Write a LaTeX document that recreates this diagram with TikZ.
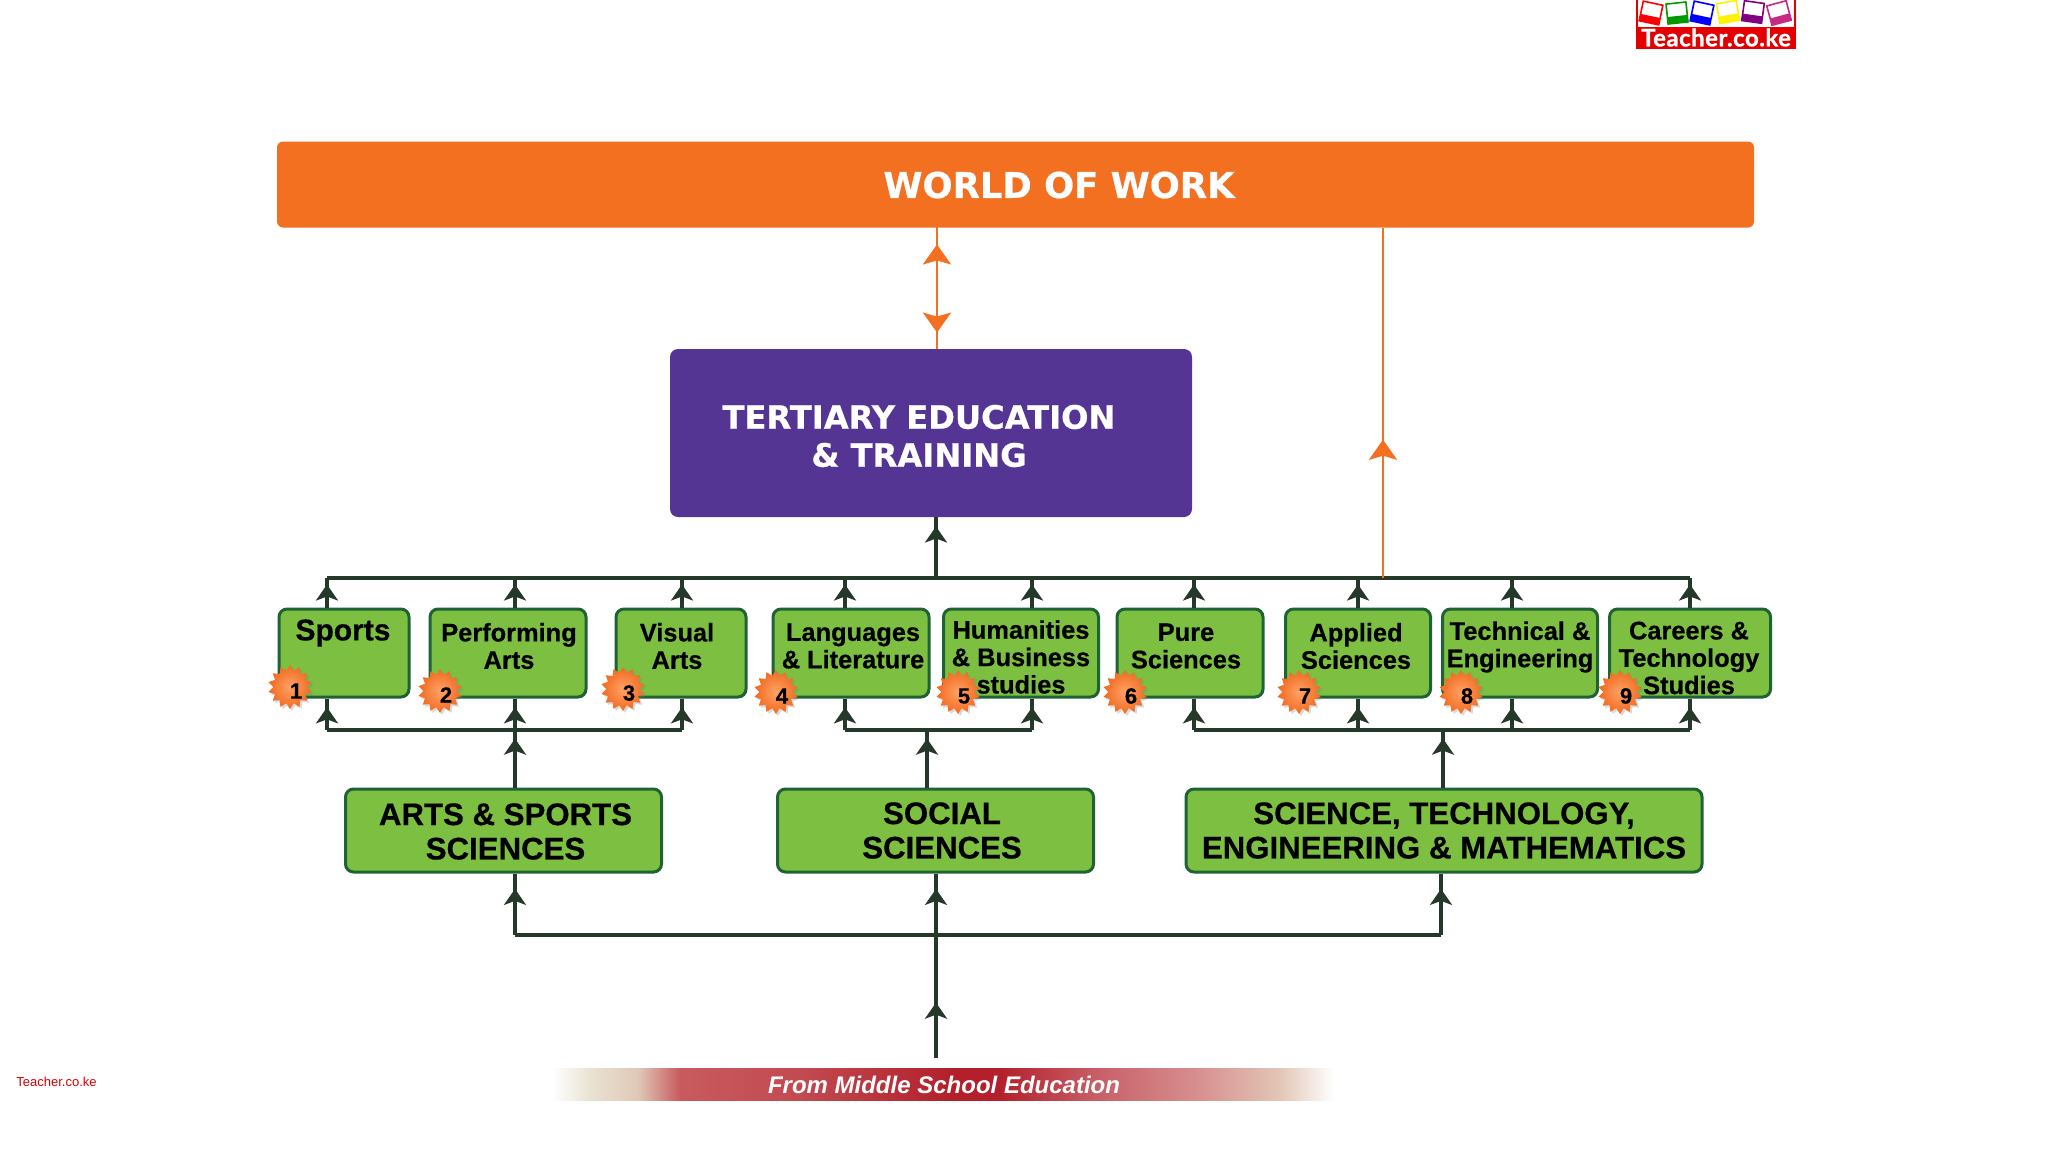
\documentclass[tikz,border=0pt]{standalone}
\usepackage{fontspec}
\setmainfont{Liberation Sans}[BoldFeatures={FakeBold=0.5}]
\newfontfamily\heavyfont{DejaVu Sans}[BoldFeatures={FakeBold=0.6}]
\newfontfamily\logofont{Lato}[BoldFeatures={FakeBold=1}, LetterSpace=2]
\usepackage{tikz}
\usetikzlibrary{arrows.meta, decorations.markings, shapes.geometric, shadows}
\definecolor{workorange}{HTML}{F37021}
\definecolor{tertiarypurple}{HTML}{553593}
\definecolor{boxgreen}{HTML}{7DBF41}
\definecolor{boxedge}{HTML}{1F6236}
\definecolor{flowdark}{HTML}{25392B}
\definecolor{badgelight}{HTML}{FFA266}
\definecolor{badgedark}{HTML}{F26A1F}
\definecolor{ribbonA}{HTML}{E9E3D3}
\definecolor{ribbonB}{HTML}{E0C8B8}
\definecolor{ribbonC}{HTML}{C85A5E}
\definecolor{ribbonD}{HTML}{C24A50}
\definecolor{ribbonE}{HTML}{B3202C}
\definecolor{ribbonF}{HTML}{C86068}
\definecolor{ribbonG}{HTML}{D89090}
\definecolor{ribbonH}{HTML}{E2C6B6}
\pgfdeclarehorizontalshading{ribbonfade}{100bp}{
    color(0bp)=(white); color(25bp)=(white); color(27.4bp)=(ribbonA);
    color(30.5bp)=(ribbonB); color(33.2bp)=(ribbonC); color(40.9bp)=(ribbonD);
    color(50.5bp)=(ribbonE); color(53.6bp)=(ribbonE); color(60bp)=(ribbonF);
    color(66.4bp)=(ribbonG); color(71.5bp)=(ribbonH); color(75bp)=(white); color(100bp)=(white)}
\tikzset{
    smallbox/.style={draw=boxedge, fill=boxgreen, line width=1.5pt, rounded corners=4pt,
        inner sep=0pt, minimum height=44pt},
    smalltext/.style={align=center, inner sep=0pt, font=\bfseries\fontsize{12.7}{13.7}\selectfont},
    groupbox/.style={draw=boxedge, fill=boxgreen, line width=1.5pt, rounded corners=4pt,
        inner sep=0pt, minimum height=41.5pt},
    grouptext/.style={align=center, inner sep=0pt, font=\bfseries\fontsize{15.6}{17.2}\selectfont},
    badge/.style={star, star points=14, star point ratio=1.32, minimum size=22pt, inner sep=0pt,
        inner color=badgelight, outer color=badgedark, drop shadow={shadow xshift=1pt, shadow yshift=-1pt, opacity=.3}},
    badgenum/.style={font=\bfseries\fontsize{11}{12}\selectfont, inner sep=0pt},
    flow/.style={draw=flowdark, line width=1.6pt},
    orangeflow/.style={draw=workorange, line width=1.4pt},
    tipat/.style={postaction={decorate, decoration={markings,
        mark=at position #1 with {\arrow{Stealth[length=8pt, width=11pt, inset=2pt]}}}}},
    bigtipat/.style={postaction={decorate, decoration={markings,
        mark=at position #1 with {\arrow{Stealth[length=10pt, width=14pt, inset=2pt]}}}}}
}
\begin{document}
\begin{tikzpicture}[x=0.5pt, y=-0.5pt]
    \useasboundingbox (0, 0) rectangle (2048, 1152);

    % top bar and tertiary box
    \node[fill=workorange, rounded corners=3pt, minimum width=738.5pt, minimum height=43pt, inner sep=0pt] (work) at (1015.5, 184.5) {};
    \node[text=white, inner sep=0pt, font=\heavyfont\bfseries\fontsize{17.7}{20}\selectfont] (worktext) at (1059, 185) {WORLD OF WORK};
    \node[fill=tertiarypurple, rounded corners=4pt, minimum width=261pt, minimum height=84pt, inner sep=0pt] (tertiary) at (931, 433) {};
    \node[text=white, align=center, inner sep=0pt, font=\heavyfont\bfseries\fontsize{16.1}{19}\selectfont] (tertiarytext) at (919, 436) {TERTIARY EDUCATION\\\& TRAINING};

    % subject boxes: name/centre/width/stem/text x/text y/text
    \foreach \name/\cx/\bw/\stem/\tx/\ty/\txt in {
        sports/344/130/327/343/633/{\fontsize{15}{16}\selectfont Sports},
        performing/508/156/515/509/646/{Performing\\Arts},
        visual/681/130/682/677/646/{Visual\\Arts},
        languages/851/156/845/853/646/{Languages\\\& Literature},
        humanities/1021/155/1032/1021/657/{Humanities\\\& Business\\studies},
        pure/1190/146/1194/1186/646/{Pure\\Sciences},
        applied/1358/145/1358/1356/646/{Applied\\Sciences},
        technical/1520/155/1512/1520/647/{Technical \&\\Engineering},
        careers/1690/161/1690/1689/658/{Careers \&\\Technology\\Studies}} {
        \node[smallbox, minimum width=\bw*0.5pt] (\name) at (\cx, 653) {};
        \node[smalltext] (\name text) at (\tx, \ty) {\txt};
        \coordinate (up\name) at (\stem, 578);
        \coordinate (low\name) at (\stem, 730);
        \draw[flow, tipat=.78] (\name.north -| up\name) -- (up\name);
        \draw[flow, tipat=.72] (low\name) -- (\name.south -| low\name);
    }

    % group boxes
    \node[groupbox, minimum width=158pt] (arts) at (503.5, 830.5) {};
    \node[grouptext] (artstext) at (505.5, 831.5) {ARTS \& SPORTS\\SCIENCES};
    \node[groupbox, minimum width=158pt] (social) at (935.5, 830.5) {};
    \node[grouptext] (socialtext) at (942, 830.5) {SOCIAL\\SCIENCES};
    \node[groupbox, minimum width=258pt] (stem) at (1444, 830.5) {};
    \node[grouptext] (stemtext) at (1444, 830.5) {SCIENCE, TECHNOLOGY,\\ENGINEERING \& MATHEMATICS};

    % bars above and below the subject boxes
    \draw[flow] (upsports) -- (upcareers);
    \draw[flow] (lowsports) -- (lowvisual);
    \draw[flow] (lowlanguages) -- (lowhumanities);
    \draw[flow] (lowpure) -- (lowcareers);

    \coordinate (artsup) at (515, 730);
    \coordinate (socialup) at (927, 730);
    \coordinate (stemup) at (1443, 730);
    \draw[flow, tipat=.85] (arts.north -| artsup) -- (artsup);
    \draw[flow, tipat=.85] (social.north -| socialup) -- (socialup);
    \draw[flow, tipat=.85] (stem.north -| stemup) -- (stemup);

    % feed from below
    \node[minimum width=391pt, minimum height=16pt, inner sep=0pt, shading=ribbonfade,
        shading angle=0] (ribbon) at (943, 1084) {};
    \node[text=white, inner sep=0pt, font=\bfseries\itshape\fontsize{12}{15}\selectfont] (ribbontext) at (944, 1085) {From Middle School Education};
    \coordinate (feedleft) at (515, 935);
    \coordinate (feedmid) at (936, 935);
    \coordinate (feedright) at (1441, 935);
    \coordinate (feedstart) at (936, 1058);
    \draw[flow] (feedleft) -- (feedright);
    \draw[flow, tipat=.45] (feedstart) -- (feedmid);
    \draw[flow, tipat=.75] (feedmid) -- (social.south -| feedmid);
    \draw[flow, tipat=.75] (feedleft) -- (arts.south -| feedleft);
    \draw[flow, tipat=.75] (feedright) -- (stem.south -| feedright);

    % up to tertiary and to work
    \coordinate (tertiaryup) at (936, 578);
    \draw[flow, tipat=.85] (tertiaryup) -- (tertiary.south -| tertiaryup);
    \coordinate (workmid) at (937, 227);
    \coordinate (tertiarymid) at (937, 349);
    \draw[orangeflow] (tertiarymid) -- (workmid);
    \node[inner sep=0pt, minimum size=0pt] (orangeup) at (937, 244) {};
    \node[inner sep=0pt, minimum size=0pt] (orangedown) at (937, 333) {};
    \draw[orangeflow, -{Stealth[length=10pt, width=14pt, inset=2pt]}] (937, 266) -- (orangeup);
    \draw[orangeflow, -{Stealth[length=10pt, width=14pt, inset=2pt]}] (937, 311) -- (orangedown);
    \coordinate (rightbottom) at (1383, 578);
    \draw[orangeflow, bigtipat=.395] (rightbottom) -- (work.south -| rightbottom);

    % numbered badges
    \foreach \n/\bx/\by in {1/290/687, 2/440/691, 3/623/689, 4/776/692, 5/958/692,
        6/1125/692, 7/1299/692, 8/1461/692, 9/1620/692} {
        \node[badge] (badge\n) at (\bx, \by) {};
        \node[badgenum] (num\n) at (\bx+6, \by+4) {\n};
    }

    \node[text=red!85!black, anchor=west, inner sep=0pt, font=\fontsize{6.5}{8}\selectfont] (footer) at (16, 1082) {Teacher.co.ke};

    % logo
    \fill[red!90!black] (1636, 0) rectangle (1796, 49);
    \fill[white] (1638, -2) rectangle (1794, 27);
    \foreach \lx/\ly/\ang/\col in {1651/13/12/red, 1677/13/-6/green!60!black, 1702/13/12/blue,
        1728/12/-10/yellow, 1753/12/8/violet, 1779/13/-15/magenta!80!black} {
        \begin{scope}[shift={(\lx, \ly)}, rotate=-\ang]
            \fill[white, draw=\col, line width=0.8pt] (-10, -10) rectangle (10, 10);
            \fill[\col] (-10, 3) rectangle (10, 10);
        \end{scope}
    }
    \node[text=white, inner sep=0pt, font=\logofont\bfseries\fontsize{12}{14}\selectfont] (logotext) at (1716, 37.5) {Teacher.co.ke};
\end{tikzpicture}
\end{document}
